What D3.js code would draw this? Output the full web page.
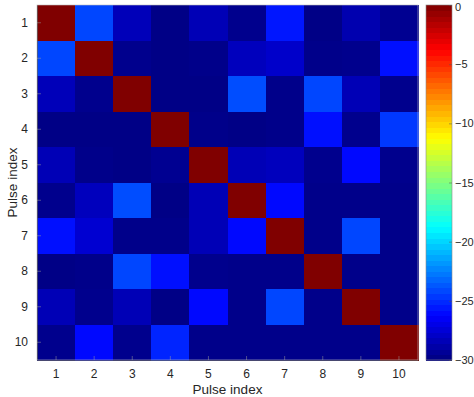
<!DOCTYPE html>
<html>
<head>
<meta charset="utf-8">
<script src="https://cdn.jsdelivr.net/npm/d3@7"></script>
<style>
  body { margin: 0; background: #fff; }
  svg { display: block; font-family: "Liberation Sans", Arial, sans-serif; }
</style>
</head>
<body>
<div id="chart"></div>
<script>
// pulse indices (rows = y, cols = x)
const pulses = [1, 2, 3, 4, 5, 6, 7, 8, 9, 10]

// correlation values in dB
const row1  = [0, -24.2, -28.3, -29.8, -28.4, -29.6, -25.6, -29.8, -28.6, -29.5]
const row2  = [-24.2, 0, -29.6, -29.8, -29.7, -28.2, -27.8, -29.7, -29.6, -25.8]
const row3  = [-28.3, -29.6, 0, -29.8, -29.8, -24.0, -29.7, -24.2, -28.4, -29.6]
const row4  = [-29.8, -29.8, -29.8, 0, -29.7, -29.8, -29.7, -25.8, -29.6, -24.6]
const row5  = [-28.4, -29.7, -29.8, -29.5, 0, -28.4, -28.2, -29.6, -26.0, -29.6]
const row6  = [-29.6, -28.2, -24.0, -29.8, -28.4, 0, -26.0, -29.7, -29.7, -29.7]
const row7  = [-25.8, -27.6, -29.7, -29.7, -28.4, -26.0, 0, -29.7, -24.2, -29.7]
const row8  = [-29.8, -29.7, -24.2, -25.8, -29.6, -29.7, -29.7, 0, -29.7, -29.7]
const row9  = [-28.4, -29.6, -28.4, -29.8, -26.0, -29.7, -24.2, -29.7, 0, -29.7]
const row10 = [-29.6, -26.0, -29.6, -25.2, -29.7, -29.7, -29.7, -29.7, -29.7, 0]
const matrix = [row1, row2, row3, row4, row5, row6, row7, row8, row9, row10]

const colorTicks = [0, -5, -10, -15, -20, -25, -30]

const width = 474
const height = 397
const margin = ({top: 5, right: 56, bottom: 37, left: 37})
const plotRight = 418
const bar = ({x0: 426, x1: 452})

// MATLAB jet colormap
const jet = t => {
  const c = v => Math.max(0, Math.min(1, v))
  const r = c(1.5 - Math.abs(4 * t - 3))
  const g = c(1.5 - Math.abs(4 * t - 2))
  const b = c(1.5 - Math.abs(4 * t - 1))
  return d3.rgb(r * 255, g * 255, b * 255).toString()
}
const color = d3.scaleSequential(jet).domain([-30, 0]).clamp(true)

const x = d3.scaleBand()
  .domain(pulses)
  .range([margin.left, plotRight])
const y = d3.scaleBand()
  .domain(pulses)
  .range([margin.top, height - margin.bottom])
const yBar = d3.scaleLinear()
  .domain([-30, 0])
  .range([height - margin.bottom, margin.top])

const cells = []
matrix.forEach((row, i) => row.forEach((v, j) => {
  cells.push({row: pulses[i], col: pulses[j], value: v})
}))

const svg = d3.create('svg')
  .attr('width', width)
  .attr('height', height)
  .attr('viewBox', [0, 0, width, height])

svg.append('g')
  .attr('shape-rendering', 'crispEdges')
  .selectAll('rect')
  .data(cells)
  .join('rect')
  .attr('x', d => x(d.col))
  .attr('y', d => y(d.row))
  .attr('width', x.bandwidth() + 0.5)
  .attr('height', y.bandwidth() + 0.5)
  .attr('fill', d => color(d.value))

const axisColor = '#262626'
const tickLen = 4

// x axis (ticks point inward)
const xAxis = g => g
  .attr('transform', `translate(0, ${height - margin.bottom})`)
  .call(d3.axisBottom(x).tickSizeInner(-tickLen).tickSizeOuter(0).tickPadding(9))
  .call(g => g.select('.domain').attr('stroke', axisColor).attr('stroke-width', 0.6))
  .call(g => g.selectAll('.tick line').attr('stroke', '#9a9a9a').attr('stroke-width', 0.5))
  .call(g => g.selectAll('.tick text').attr('font-size', 12).attr('fill', axisColor))

const yAxis = g => g
  .attr('transform', `translate(${margin.left}, 0)`)
  .call(d3.axisLeft(y).tickSizeInner(-tickLen).tickSizeOuter(0).tickPadding(9))
  .call(g => g.select('.domain').attr('stroke', axisColor).attr('stroke-width', 0.6))
  .call(g => g.selectAll('.tick line').attr('stroke', '#9a9a9a').attr('stroke-width', 0.5))
  .call(g => g.selectAll('.tick text').attr('font-size', 12).attr('fill', axisColor))

svg.append('g').call(xAxis)
svg.append('g').call(yAxis)

// box around the plot
svg.append('rect')
  .attr('x', margin.left)
  .attr('y', margin.top)
  .attr('width', plotRight - margin.left)
  .attr('height', height - margin.bottom - margin.top)
  .attr('fill', 'none')
  .attr('stroke', '#bdbdbd')
  .attr('stroke-width', 0.6)

// axis labels
svg.append('text')
  .attr('x', (margin.left + plotRight) / 2)
  .attr('y', 394)
  .attr('text-anchor', 'middle')
  .attr('font-size', 13.5)
  .attr('fill', axisColor)
  .text('Pulse index')

svg.append('text')
  .attr('transform', `translate(17, ${(margin.top + height - margin.bottom) / 2}) rotate(-90)`)
  .attr('text-anchor', 'middle')
  .attr('font-size', 13.5)
  .attr('fill', axisColor)
  .text('Pulse index')

// colorbar, 64 steps like matlab
const steps = d3.range(64).map(i => -30 + (i + 0.5) * 30 / 64)
const stepH = (yBar(-30) - yBar(0)) / 64
svg.append('g')
  .attr('shape-rendering', 'crispEdges')
  .selectAll('rect')
  .data(steps)
  .join('rect')
  .attr('x', bar.x0)
  .attr('y', d => yBar(d) - stepH / 2)
  .attr('width', bar.x1 - bar.x0)
  .attr('height', stepH + 0.6)
  .attr('fill', d => color(d))

svg.append('rect')
  .attr('x', bar.x0)
  .attr('y', yBar(0))
  .attr('width', bar.x1 - bar.x0)
  .attr('height', yBar(-30) - yBar(0))
  .attr('fill', 'none')
  .attr('stroke', '#8a8a8a')
  .attr('stroke-width', 0.6)

svg.append('g')
  .attr('transform', `translate(${bar.x1}, 0)`)
  .call(d3.axisRight(yBar).tickValues(colorTicks).tickSizeInner(-3).tickSizeOuter(0).tickPadding(3))
  .call(g => g.select('.domain').remove())
  .call(g => g.selectAll('.tick line').attr('stroke', '#555').attr('stroke-width', 0.5))
  .call(g => g.selectAll('.tick text').attr('font-size', 11).attr('fill', axisColor))
  .call(g => g.selectAll('.tick').filter(d => d === 0).select('text').attr('dy', '0.5em'))

document.getElementById('chart').appendChild(svg.node())
</script>
</body>
</html>
